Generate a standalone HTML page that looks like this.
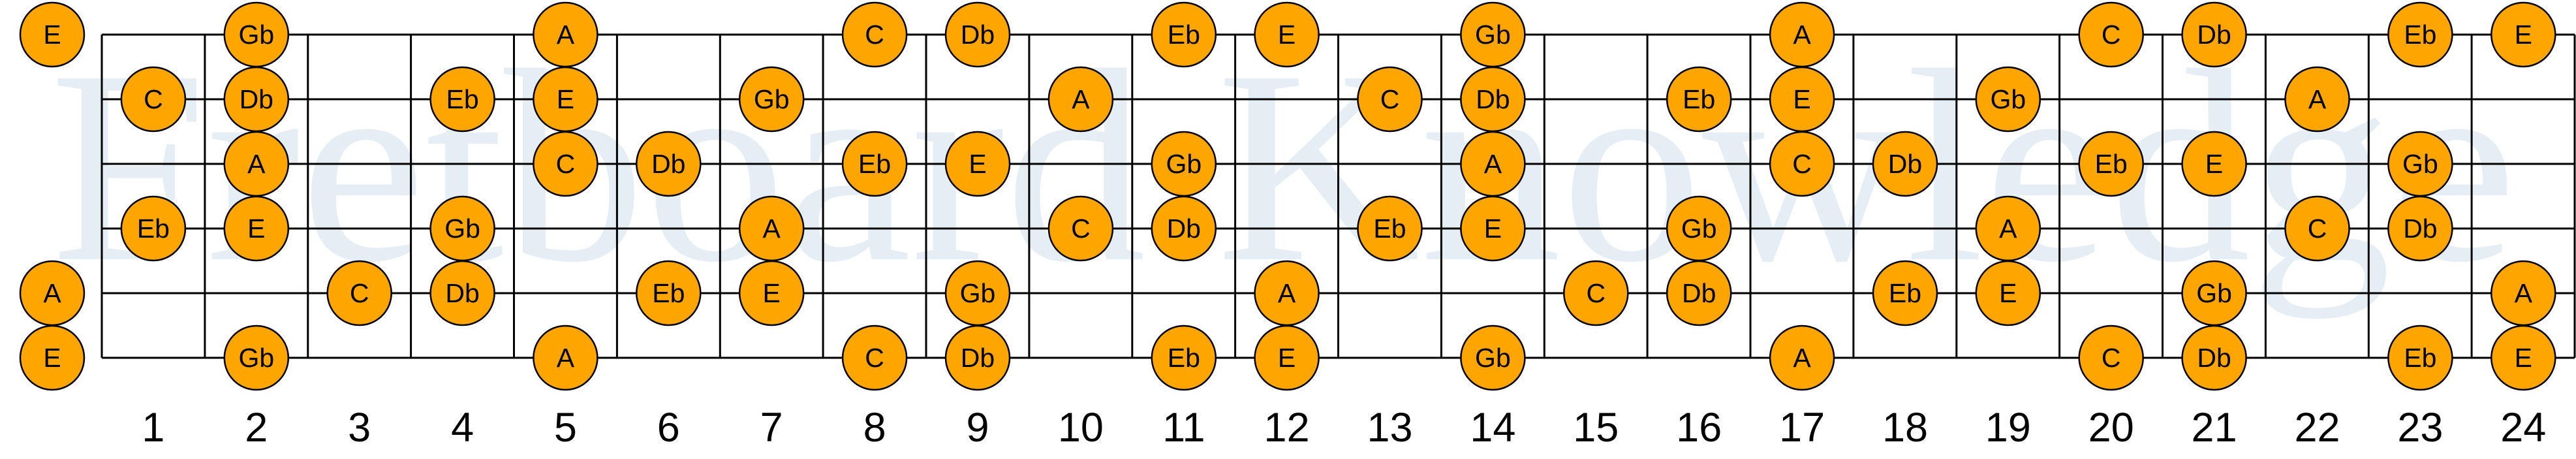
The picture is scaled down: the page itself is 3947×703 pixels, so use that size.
<!DOCTYPE html>
<html><head><meta charset="utf-8"><style>
html,body{margin:0;padding:0;background:#fff;}
svg{display:block;}
.n circle{fill:#FFA500;stroke:#000;stroke-width:2.5;}
.n text{font-family:"Liberation Sans",sans-serif;font-size:41px;text-anchor:middle;fill:#000;}
.num{font-family:"Liberation Sans",sans-serif;font-size:63px;text-anchor:middle;fill:#000;}
</style></head><body>
<svg width="3947" height="703" viewBox="0 0 3947 703" xmlns="http://www.w3.org/2000/svg">
<rect width="3947" height="703" fill="#fff"/>
<text x="76" y="397" font-family="Liberation Serif, serif" font-size="423" fill="#e5eef5" textLength="3780" lengthAdjust="spacingAndGlyphs">Fretboard Knowledge</text>
<g stroke="#000" stroke-width="3" fill="none">
<path d="M156 53H3945M156 152H3945M156 251H3945M156 350H3945M156 449H3945M156 548H3945"/>
<path d="M156 53V548M313.9 53V548M471.8 53V548M629.6 53V548M787.5 53V548M945.4 53V548M1103.3 53V548M1261.1 53V548M1419 53V548M1576.9 53V548M1734.8 53V548M1892.6 53V548M2050.5 53V548M2208.4 53V548M2366.3 53V548M2524.1 53V548M2682 53V548M2839.9 53V548M2997.8 53V548M3155.6 53V548M3313.5 53V548M3471.4 53V548M3629.3 53V548M3787.1 53V548M3945 53V548"/>
</g>
<!-- row 0 y=53 -->
<g class="n" transform="translate(0,53)">
<circle cx="80" r="49"/><text x="80" y="14">E</text>
<circle cx="392.8" r="49"/><text x="392.8" y="14">Gb</text>
<circle cx="866.4" r="49"/><text x="866.4" y="14">A</text>
<circle cx="1340.1" r="49"/><text x="1340.1" y="14">C</text>
<circle cx="1498" r="49"/><text x="1498" y="14">Db</text>
<circle cx="1813.8" r="49"/><text x="1813.8" y="14">Eb</text>
<circle cx="1971.6" r="49"/><text x="1971.6" y="14">E</text>
<circle cx="2287.4" r="49"/><text x="2287.4" y="14">Gb</text>
<circle cx="2761.1" r="49"/><text x="2761.1" y="14">A</text>
<circle cx="3234.7" r="49"/><text x="3234.7" y="14">C</text>
<circle cx="3392.6" r="49"/><text x="3392.6" y="14">Db</text>
<circle cx="3708.4" r="49"/><text x="3708.4" y="14">Eb</text>
<circle cx="3866.3" r="49"/><text x="3866.3" y="14">E</text>
</g>
<!-- row 1 y=152 -->
<g class="n" transform="translate(0,152)">
<circle cx="234.9" r="49"/><text x="234.9" y="14">C</text>
<circle cx="392.8" r="49"/><text x="392.8" y="14">Db</text>
<circle cx="708.6" r="49"/><text x="708.6" y="14">Eb</text>
<circle cx="866.4" r="49"/><text x="866.4" y="14">E</text>
<circle cx="1182.2" r="49"/><text x="1182.2" y="14">Gb</text>
<circle cx="1655.9" r="49"/><text x="1655.9" y="14">A</text>
<circle cx="2129.5" r="49"/><text x="2129.5" y="14">C</text>
<circle cx="2287.4" r="49"/><text x="2287.4" y="14">Db</text>
<circle cx="2603.2" r="49"/><text x="2603.2" y="14">Eb</text>
<circle cx="2761.1" r="49"/><text x="2761.1" y="14">E</text>
<circle cx="3076.8" r="49"/><text x="3076.8" y="14">Gb</text>
<circle cx="3550.5" r="49"/><text x="3550.5" y="14">A</text>
</g>
<!-- row 2 y=251 -->
<g class="n" transform="translate(0,251)">
<circle cx="392.8" r="49"/><text x="392.8" y="14">A</text>
<circle cx="866.4" r="49"/><text x="866.4" y="14">C</text>
<circle cx="1024.3" r="49"/><text x="1024.3" y="14">Db</text>
<circle cx="1340.1" r="49"/><text x="1340.1" y="14">Eb</text>
<circle cx="1498" r="49"/><text x="1498" y="14">E</text>
<circle cx="1813.8" r="49"/><text x="1813.8" y="14">Gb</text>
<circle cx="2287.4" r="49"/><text x="2287.4" y="14">A</text>
<circle cx="2761.1" r="49"/><text x="2761.1" y="14">C</text>
<circle cx="2919" r="49"/><text x="2919" y="14">Db</text>
<circle cx="3234.7" r="49"/><text x="3234.7" y="14">Eb</text>
<circle cx="3392.6" r="49"/><text x="3392.6" y="14">E</text>
<circle cx="3708.4" r="49"/><text x="3708.4" y="14">Gb</text>
</g>
<!-- row 3 y=350 -->
<g class="n" transform="translate(0,350)">
<circle cx="234.9" r="49"/><text x="234.9" y="14">Eb</text>
<circle cx="392.8" r="49"/><text x="392.8" y="14">E</text>
<circle cx="708.6" r="49"/><text x="708.6" y="14">Gb</text>
<circle cx="1182.2" r="49"/><text x="1182.2" y="14">A</text>
<circle cx="1655.9" r="49"/><text x="1655.9" y="14">C</text>
<circle cx="1813.8" r="49"/><text x="1813.8" y="14">Db</text>
<circle cx="2129.5" r="49"/><text x="2129.5" y="14">Eb</text>
<circle cx="2287.4" r="49"/><text x="2287.4" y="14">E</text>
<circle cx="2603.2" r="49"/><text x="2603.2" y="14">Gb</text>
<circle cx="3076.8" r="49"/><text x="3076.8" y="14">A</text>
<circle cx="3550.5" r="49"/><text x="3550.5" y="14">C</text>
<circle cx="3708.4" r="49"/><text x="3708.4" y="14">Db</text>
</g>
<!-- row 4 y=449 -->
<g class="n" transform="translate(0,449)">
<circle cx="80" r="49"/><text x="80" y="14">A</text>
<circle cx="550.7" r="49"/><text x="550.7" y="14">C</text>
<circle cx="708.6" r="49"/><text x="708.6" y="14">Db</text>
<circle cx="1024.3" r="49"/><text x="1024.3" y="14">Eb</text>
<circle cx="1182.2" r="49"/><text x="1182.2" y="14">E</text>
<circle cx="1498" r="49"/><text x="1498" y="14">Gb</text>
<circle cx="1971.6" r="49"/><text x="1971.6" y="14">A</text>
<circle cx="2445.3" r="49"/><text x="2445.3" y="14">C</text>
<circle cx="2603.2" r="49"/><text x="2603.2" y="14">Db</text>
<circle cx="2919" r="49"/><text x="2919" y="14">Eb</text>
<circle cx="3076.8" r="49"/><text x="3076.8" y="14">E</text>
<circle cx="3392.6" r="49"/><text x="3392.6" y="14">Gb</text>
<circle cx="3866.3" r="49"/><text x="3866.3" y="14">A</text>
</g>
<!-- row 5 y=548 -->
<g class="n" transform="translate(0,548)">
<circle cx="80" r="49"/><text x="80" y="14">E</text>
<circle cx="392.8" r="49"/><text x="392.8" y="14">Gb</text>
<circle cx="866.4" r="49"/><text x="866.4" y="14">A</text>
<circle cx="1340.1" r="49"/><text x="1340.1" y="14">C</text>
<circle cx="1498" r="49"/><text x="1498" y="14">Db</text>
<circle cx="1813.8" r="49"/><text x="1813.8" y="14">Eb</text>
<circle cx="1971.6" r="49"/><text x="1971.6" y="14">E</text>
<circle cx="2287.4" r="49"/><text x="2287.4" y="14">Gb</text>
<circle cx="2761.1" r="49"/><text x="2761.1" y="14">A</text>
<circle cx="3234.7" r="49"/><text x="3234.7" y="14">C</text>
<circle cx="3392.6" r="49"/><text x="3392.6" y="14">Db</text>
<circle cx="3708.4" r="49"/><text x="3708.4" y="14">Eb</text>
<circle cx="3866.3" r="49"/><text x="3866.3" y="14">E</text>
</g>
<g class="num">
<text class="num" x="234.9" y="676">1</text>
<text class="num" x="392.8" y="676">2</text>
<text class="num" x="550.7" y="676">3</text>
<text class="num" x="708.6" y="676">4</text>
<text class="num" x="866.4" y="676">5</text>
<text class="num" x="1024.3" y="676">6</text>
<text class="num" x="1182.2" y="676">7</text>
<text class="num" x="1340.1" y="676">8</text>
<text class="num" x="1498" y="676">9</text>
<text class="num" x="1655.9" y="676">10</text>
<text class="num" x="1813.8" y="676">11</text>
<text class="num" x="1971.6" y="676">12</text>
<text class="num" x="2129.5" y="676">13</text>
<text class="num" x="2287.4" y="676">14</text>
<text class="num" x="2445.3" y="676">15</text>
<text class="num" x="2603.2" y="676">16</text>
<text class="num" x="2761.1" y="676">17</text>
<text class="num" x="2919" y="676">18</text>
<text class="num" x="3076.8" y="676">19</text>
<text class="num" x="3234.7" y="676">20</text>
<text class="num" x="3392.6" y="676">21</text>
<text class="num" x="3550.5" y="676">22</text>
<text class="num" x="3708.4" y="676">23</text>
<text class="num" x="3866.3" y="676">24</text>
</g>
</svg>
</body></html>
